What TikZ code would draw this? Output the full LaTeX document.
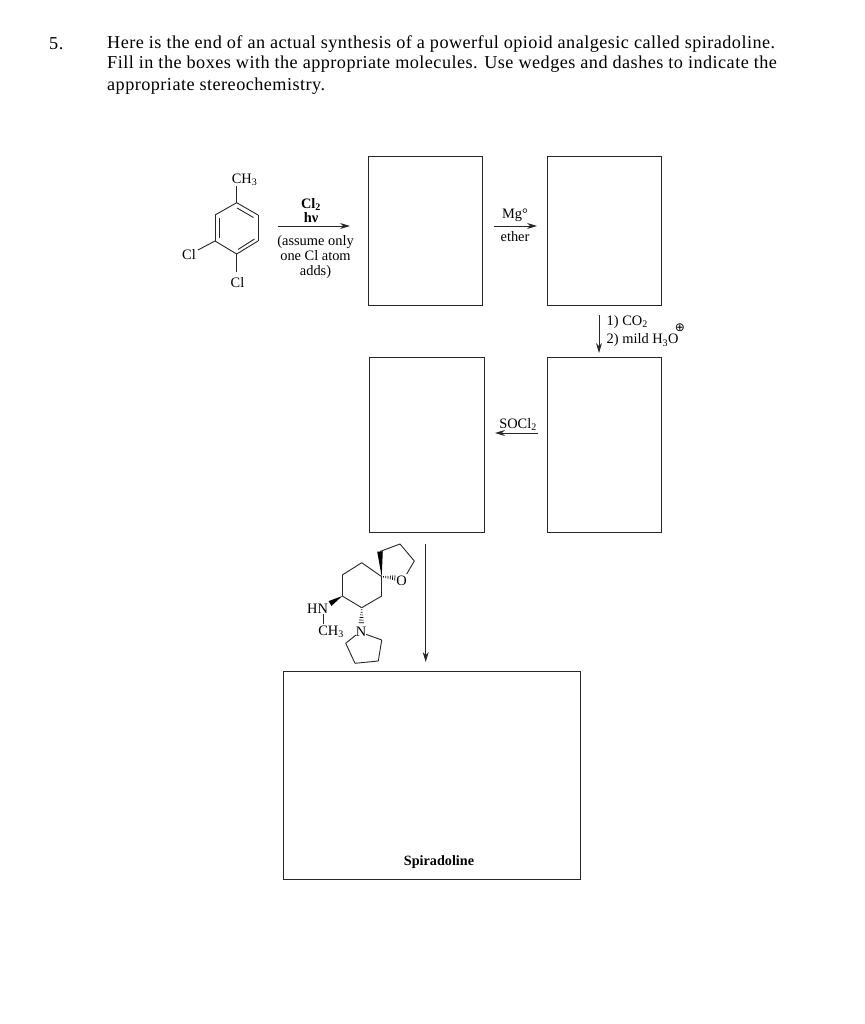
\documentclass[tikz,border=0pt]{standalone}
\usepackage{fontspec}
\setmainfont{Liberation Serif}
\newfontfamily\headfont[LetterSpace=2.5]{Liberation Serif}
\newfontfamily\symbfont{DejaVu Sans}
\usetikzlibrary{graphs, arrows.meta, calc}

\tikzset{
    bondline/.style={draw=black!85, line width=0.9pt},
    framebox/.style={draw=black!85, line width=1pt, inner sep=0pt, anchor=north west},
    heading/.style={anchor=west, inner sep=0pt, font=\headfont\fontsize{18.2}{20}\selectfont},
    atom/.style={inner sep=0pt, font=\fontsize{14.4}{15}\selectfont},
    reagent/.style={inner sep=0pt, align=center, font=\fontsize{14.4}{14.6}\selectfont},
    reaction/.style={-{Stealth[length=10pt, width=6pt]}, draw=black!85, line width=0.9pt},
}

% wedge and hashed bonds, narrow end first
\newcommand{\wedgebond}[2]{\fill[black] (#1) -- ($(#2)!2.8pt!90:(#1)$) -- ($(#2)!2.8pt!-90:(#1)$) -- cycle;}
\newcommand{\hashbond}[2]{
    \foreach \t in {0.12,0.28,0.44,0.60,0.76,0.92}{
        \pgfmathsetmacro{\w}{0.4+2.4*\t}
        \draw[black, line width=0.7pt] ($(#1)!\t!(#2)!\w pt!90:(#2)$) -- ($(#1)!\t!(#2)!\w pt!-90:(#2)$);
    }
}

\begin{document}
\begin{tikzpicture}[x=1pt, y=-1pt]
    \useasboundingbox (0,0) rectangle (864,1024);

    % question text
    \node[heading] (number) at (49,44) {5.};
    \node[heading] (lineone) at (107,44) {Here is the end of an actual synthesis of a powerful opioid analgesic called spiradoline.};
    \node[heading] (linetwo) at (107,64) {Fill in the boxes with the appropriate molecules. Use wedges and dashes to indicate the};
    \node[heading] (linethree) at (107,86) {appropriate stereochemistry.};

    % answer boxes
    \node[framebox, minimum width=114pt, minimum height=149pt] (benzyl) at (368,156) {};
    \node[framebox, minimum width=114pt, minimum height=149pt] (grignard) at (547,156) {};
    \node[framebox, minimum width=115pt, minimum height=175pt] (chloride) at (369,357) {};
    \node[framebox, minimum width=114.5pt, minimum height=175pt] (acid) at (546.5,357) {};
    \node[framebox, minimum width=296.5pt, minimum height=208pt] (product) at (283,671) {};
    \node[font=\fontsize{14.2}{15}\selectfont\bfseries, inner sep=0pt] (spiradoline) at (439,862.5) {Spiradoline};

    % starting material
    \node[atom] (ch) at (244.5,180) {CH\textsubscript{3}};
    \node[atom] (clleft) at (189,255) {Cl};
    \node[atom] (clbottom) at (237.5,283) {Cl};
    \coordinate (a1) at (236.7,202.7);
    \coordinate (a2) at (258,215);
    \coordinate (a3) at (258,241);
    \coordinate (a4) at (236.7,254);
    \coordinate (a5) at (215,241);
    \coordinate (a6) at (215,215);
    \coordinate (d1) at (237,208);
    \coordinate (d2) at (253.5,217.5);
    \coordinate (d3) at (238,249.5);
    \coordinate (d4) at (254.5,239);
    \coordinate (d5) at (219,218);
    \coordinate (d6) at (219,238);
    \coordinate (e1) at (236.7,186);
    \coordinate (e2) at (198,250);
    \coordinate (e3) at (236.7,272);
    \graph[use existing nodes, edges={bondline}]{
        a1 -- a2 -- a3 -- a4 -- a5 -- a6 -- a1;
        d1 -- d2;
        d3 -- d4;
        d5 -- d6;
        a1 -- e1;
        a5 -- e2;
        a4 -- e3;
    };

    % reagents
    \coordinate (chlorstart) at (278,226);
    \coordinate (chlorend) at (350,226);
    \draw[reaction] (chlorstart) -- (chlorend);
    \node[reagent, font=\fontsize{14.4}{14.6}\selectfont\bfseries] (chlorine) at (311,210.5) {Cl\textsubscript{2}\\hν};
    \node[reagent] (assume) at (315.5,257) {(assume only\\one Cl atom\\adds)};

    \coordinate (mgstart) at (494,226);
    \coordinate (mgend) at (537,226);
    \draw[reaction] (mgstart) -- (mgend);
    \node[reagent] (mg) at (515,215.5) {Mg°};
    \node[reagent] (ether) at (515,237) {ether};

    \coordinate (acidstart) at (599,315);
    \coordinate (acidend) at (599,353);
    \draw[reaction] (acidstart) -- (acidend);
    \node[atom, anchor=west] (co) at (606.5,322) {1) CO\textsubscript{2}};
    \node[atom, anchor=west] (hydronium) at (606.5,340.5) {2) mild H\textsubscript{3}O};
    \node[inner sep=0pt, font=\symbfont\fontsize{12}{12}\selectfont] (plus) at (680,328) {⊕};

    \coordinate (socstart) at (538,433);
    \coordinate (socend) at (495,433);
    \draw[reaction] (socstart) -- (socend);
    \node[reagent] (socl) at (518,424.5) {SOCl\textsubscript{2}};

    \coordinate (laststart) at (425.7,544);
    \coordinate (lastend) at (425.7,662);
    \draw[reaction] (laststart) -- (lastend);

    % spiradoline
    \node[atom] (ox) at (401.5,580.5) {O};
    \node[atom] (hn) at (317.5,609) {HN};
    \node[atom] (chb) at (331,632) {CH\textsubscript{3}};
    \node[atom] (nit) at (361,631.5) {N};
    \coordinate (r1) at (381.7,576.7);
    \coordinate (r2) at (361.7,562.7);
    \coordinate (r3) at (342.3,575);
    \coordinate (r4) at (342.3,596);
    \coordinate (r5) at (361.7,607.7);
    \coordinate (r6) at (381.7,596);
    \coordinate (f1) at (380,551.5);
    \coordinate (f2) at (400,544);
    \coordinate (f3) at (414.3,561);
    \coordinate (f4) at (406.7,574);
    \coordinate (p1) at (381.7,640);
    \coordinate (p2) at (378.3,661);
    \coordinate (p3) at (355,663.3);
    \coordinate (p4) at (345.7,643.3);
    \coordinate (p5) at (366,634.3);
    \coordinate (p6) at (356,635);
    \coordinate (w1) at (330,603.5);
    \coordinate (h1) at (396,578);
    \coordinate (h2) at (361.3,624);
    \coordinate (m1) at (323.3,614.3);
    \coordinate (m2) at (323.3,624.3);
    \graph[use existing nodes, edges={bondline}]{
        r1 -- r2 -- r3 -- r4 -- r5 -- r6 -- r1;
        f1 -- f2 -- f3 -- f4;
        p5 -- p1 -- p2 -- p3 -- p4 -- p6;
        m1 -- m2;
    };
    \wedgebond{r1}{f1}
    \wedgebond{r4}{w1}
    \hashbond{r1}{h1}
    \hashbond{r5}{h2}
\end{tikzpicture}
\end{document}
